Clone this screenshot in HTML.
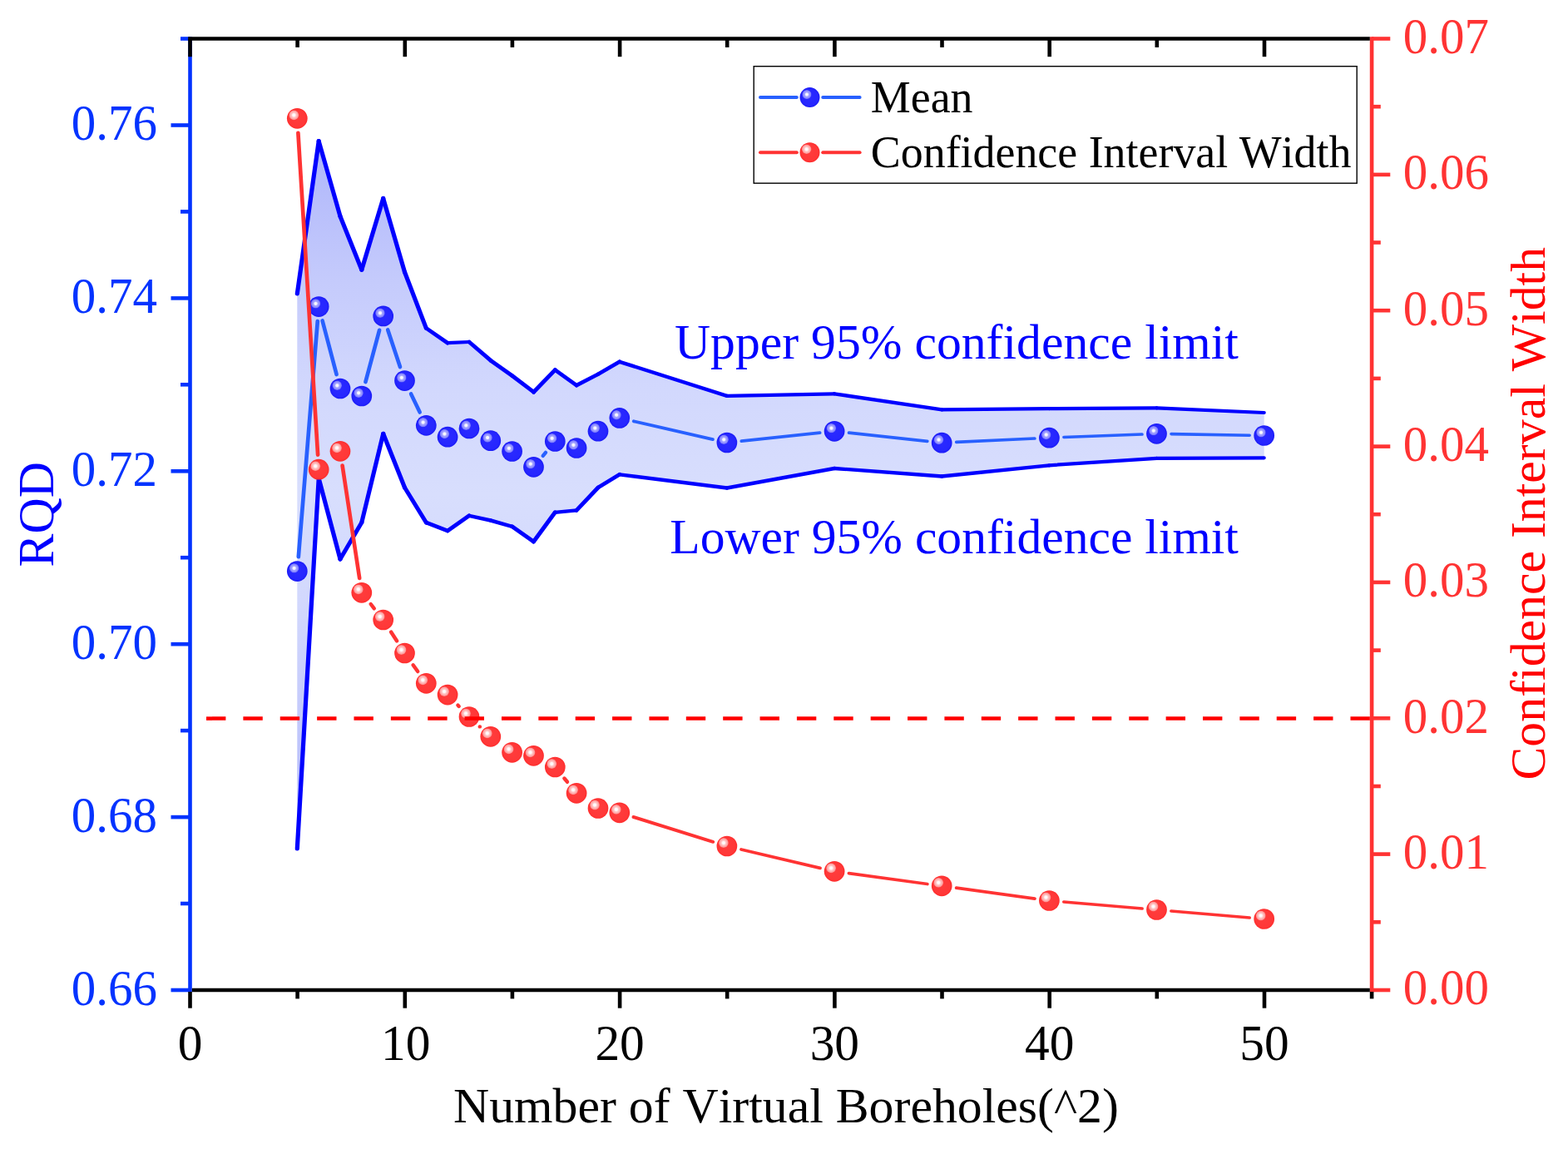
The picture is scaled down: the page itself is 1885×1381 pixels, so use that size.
<!DOCTYPE html>
<html lang="en"><head><meta charset="utf-8"><title>RQD vs Number of Virtual Boreholes</title>
<style>html,body{margin:0;padding:0;background:#fff}body{width:1885px;height:1381px}svg{display:block}text{font-family:'Liberation Serif', 'DejaVu Serif', serif;font-kerning:none;font-variant-ligatures:none}</style>
</head><body>
<svg width="1885" height="1381" viewBox="0 0 1885 1381" role="img" aria-label="RQD mean with 95% confidence limits and confidence interval width versus number of virtual boreholes">
<defs>
<linearGradient id="band" gradientUnits="userSpaceOnUse" x1="0" y1="170" x2="0" y2="1020"><stop offset="0" stop-color="#aeb5fb"/><stop offset="0.2" stop-color="#c5cbfc"/><stop offset="0.35" stop-color="#d2d8fd"/><stop offset="0.5" stop-color="#d8defd"/><stop offset="0.65" stop-color="#d2d8fd"/><stop offset="0.8" stop-color="#c5cbfc"/><stop offset="1" stop-color="#aeb5fb"/></linearGradient>
<radialGradient id="hl" cx="0.5" cy="0.5" r="0.5"><stop offset="0" stop-color="#fff" stop-opacity="1"/><stop offset="0.28" stop-color="#fff" stop-opacity="0.95"/><stop offset="0.45" stop-color="#fff" stop-opacity="0.74"/><stop offset="0.7" stop-color="#fff" stop-opacity="0.6"/><stop offset="0.9" stop-color="#fff" stop-opacity="0.46"/><stop offset="1" stop-color="#fff" stop-opacity="0.25"/></radialGradient>
<radialGradient id="hlb" cx="0.5" cy="0.5" r="0.5"><stop offset="0" stop-color="#fff" stop-opacity="1"/><stop offset="0.28" stop-color="#fff" stop-opacity="0.93"/><stop offset="0.45" stop-color="#fff" stop-opacity="0.6"/><stop offset="0.7" stop-color="#fff" stop-opacity="0.5"/><stop offset="0.9" stop-color="#fff" stop-opacity="0.38"/><stop offset="1" stop-color="#fff" stop-opacity="0.2"/></radialGradient>
<radialGradient id="bsh" cx="0.5" cy="0.5" r="0.5"><stop offset="0" stop-color="#2a2aff"/><stop offset="0.8" stop-color="#2626ff"/><stop offset="1" stop-color="#1a1af6"/></radialGradient>
<radialGradient id="rsh" cx="0.5" cy="0.5" r="0.5"><stop offset="0" stop-color="#ff3c3c"/><stop offset="0.8" stop-color="#ff3838"/><stop offset="1" stop-color="#ff2c2c"/></radialGradient>
<g id="bs"><circle r="12.35" fill="url(#bsh)"/><circle cx="-3.7" cy="-3.7" r="5.7" fill="url(#hlb)"/></g>
<g id="rs"><circle r="12.35" fill="url(#rsh)"/><circle cx="-4.0" cy="-4.0" r="5.9" fill="url(#hl)"/></g>
</defs>
<rect width="1885" height="1381" fill="#ffffff"/>
<polygon points="357.3,353.0 383.2,169.6 409.0,260.0 434.8,324.2 460.7,238.5 486.5,327.0 512.3,394.4 538.1,412.2 564.0,411.0 589.8,433.2 615.6,451.5 641.5,471.2 667.3,444.6 693.1,463.1 719.0,449.8 744.8,434.8 873.9,475.8 1003.1,473.3 1132.2,492.4 1261.4,491.2 1390.5,490.4 1519.7,496.0 1519.7,550.3 1390.5,550.8 1261.4,559.3 1132.2,572.5 1003.1,563.0 873.9,586.5 744.8,570.3 719.0,586.0 693.1,613.4 667.3,615.8 641.5,651.0 615.6,632.8 589.8,625.5 564.0,619.8 538.1,638.0 512.3,628.0 486.5,586.0 460.7,521.3 434.8,628.0 409.0,672.0 383.2,575.0 357.3,1020.0" fill="url(#band)"/>
<g stroke="#0000ff" stroke-linecap="round" fill="none">
<line x1="357.3" y1="353.0" x2="383.2" y2="169.6" stroke-width="5.19"/>
<line x1="383.2" y1="169.6" x2="409.0" y2="260.0" stroke-width="5.16"/>
<line x1="409.0" y1="260.0" x2="434.8" y2="324.2" stroke-width="5.13"/>
<line x1="434.8" y1="324.2" x2="460.7" y2="238.5" stroke-width="5.16"/>
<line x1="460.7" y1="238.5" x2="486.5" y2="327.0" stroke-width="5.16"/>
<line x1="486.5" y1="327.0" x2="512.3" y2="394.4" stroke-width="5.13"/>
<line x1="512.3" y1="394.4" x2="538.1" y2="412.2" stroke-width="4.77"/>
<line x1="538.1" y1="412.2" x2="564.0" y2="411.0" stroke-width="4.25"/>
<line x1="564.0" y1="411.0" x2="589.8" y2="433.2" stroke-width="4.85"/>
<line x1="589.8" y1="433.2" x2="615.6" y2="451.5" stroke-width="4.78"/>
<line x1="615.6" y1="451.5" x2="641.5" y2="471.2" stroke-width="4.81"/>
<line x1="641.5" y1="471.2" x2="667.3" y2="444.6" stroke-width="4.92"/>
<line x1="667.3" y1="444.6" x2="693.1" y2="463.1" stroke-width="4.78"/>
<line x1="693.1" y1="463.1" x2="719.0" y2="449.8" stroke-width="4.66"/>
<line x1="719.0" y1="449.8" x2="744.8" y2="434.8" stroke-width="4.70"/>
<line x1="744.8" y1="434.8" x2="873.9" y2="475.8" stroke-width="4.50"/>
<line x1="873.9" y1="475.8" x2="1003.1" y2="473.3" stroke-width="4.22"/>
<line x1="1003.1" y1="473.3" x2="1132.2" y2="492.4" stroke-width="4.35"/>
<line x1="1132.2" y1="492.4" x2="1261.4" y2="491.2" stroke-width="4.21"/>
<line x1="1261.4" y1="491.2" x2="1390.5" y2="490.4" stroke-width="4.21"/>
<line x1="1390.5" y1="490.4" x2="1519.7" y2="496.0" stroke-width="4.24"/>
</g>
<g stroke="#0000ff" stroke-linecap="round" fill="none">
<line x1="357.3" y1="1020.0" x2="383.2" y2="575.0" stroke-width="5.20"/>
<line x1="383.2" y1="575.0" x2="409.0" y2="672.0" stroke-width="5.17"/>
<line x1="409.0" y1="672.0" x2="434.8" y2="628.0" stroke-width="5.06"/>
<line x1="434.8" y1="628.0" x2="460.7" y2="521.3" stroke-width="5.17"/>
<line x1="460.7" y1="521.3" x2="486.5" y2="586.0" stroke-width="5.13"/>
<line x1="486.5" y1="586.0" x2="512.3" y2="628.0" stroke-width="5.05"/>
<line x1="512.3" y1="628.0" x2="538.1" y2="638.0" stroke-width="4.56"/>
<line x1="538.1" y1="638.0" x2="564.0" y2="619.8" stroke-width="4.78"/>
<line x1="564.0" y1="619.8" x2="589.8" y2="625.5" stroke-width="4.42"/>
<line x1="589.8" y1="625.5" x2="615.6" y2="632.8" stroke-width="4.47"/>
<line x1="615.6" y1="632.8" x2="641.5" y2="651.0" stroke-width="4.78"/>
<line x1="641.5" y1="651.0" x2="667.3" y2="615.8" stroke-width="5.01"/>
<line x1="667.3" y1="615.8" x2="693.1" y2="613.4" stroke-width="4.29"/>
<line x1="693.1" y1="613.4" x2="719.0" y2="586.0" stroke-width="4.93"/>
<line x1="719.0" y1="586.0" x2="744.8" y2="570.3" stroke-width="4.72"/>
<line x1="744.8" y1="570.3" x2="873.9" y2="586.5" stroke-width="4.32"/>
<line x1="873.9" y1="586.5" x2="1003.1" y2="563.0" stroke-width="4.38"/>
<line x1="1003.1" y1="563.0" x2="1132.2" y2="572.5" stroke-width="4.27"/>
<line x1="1132.2" y1="572.5" x2="1261.4" y2="559.3" stroke-width="4.30"/>
<line x1="1261.4" y1="559.3" x2="1390.5" y2="550.8" stroke-width="4.27"/>
<line x1="1390.5" y1="550.8" x2="1519.7" y2="550.3" stroke-width="4.20"/>
</g>
<line x1="358.8" y1="669.2" x2="381.8" y2="386.0" stroke="#2860ff" stroke-width="4.70" stroke-linecap="round"/>
<line x1="387.6" y1="385.5" x2="404.6" y2="450.1" stroke="#2860ff" stroke-width="4.66" stroke-linecap="round"/>
<line x1="439.4" y1="459.1" x2="456.1" y2="396.8" stroke="#2860ff" stroke-width="4.66" stroke-linecap="round"/>
<line x1="466.2" y1="396.5" x2="481.0" y2="441.0" stroke="#2860ff" stroke-width="4.64" stroke-linecap="round"/>
<line x1="494.1" y1="473.4" x2="504.7" y2="495.5" stroke="#2860ff" stroke-width="4.59" stroke-linecap="round"/>
<line x1="652.7" y1="547.9" x2="656.0" y2="543.9" stroke="#2860ff" stroke-width="4.44" stroke-linecap="round"/>
<line x1="761.8" y1="506.3" x2="856.9" y2="528.1" stroke="#2860ff" stroke-width="3.85" stroke-linecap="round"/>
<line x1="891.3" y1="530.2" x2="985.7" y2="520.1" stroke="#2860ff" stroke-width="3.72" stroke-linecap="round"/>
<line x1="1020.5" y1="520.2" x2="1114.8" y2="530.3" stroke="#2860ff" stroke-width="3.72" stroke-linecap="round"/>
<line x1="1149.7" y1="531.4" x2="1243.9" y2="527.0" stroke="#2860ff" stroke-width="3.65" stroke-linecap="round"/>
<line x1="1278.9" y1="525.5" x2="1373.0" y2="522.0" stroke="#2860ff" stroke-width="3.64" stroke-linecap="round"/>
<line x1="1408.0" y1="521.6" x2="1502.2" y2="523.2" stroke="#2860ff" stroke-width="3.62" stroke-linecap="round"/>
<use href="#bs" x="357.3" y="686.6"/>
<use href="#bs" x="383.2" y="368.6"/>
<use href="#bs" x="409.0" y="467.0"/>
<use href="#bs" x="434.8" y="476.0"/>
<use href="#bs" x="460.7" y="379.9"/>
<use href="#bs" x="486.5" y="457.6"/>
<use href="#bs" x="512.3" y="511.3"/>
<use href="#bs" x="538.1" y="525.2"/>
<use href="#bs" x="564.0" y="515.0"/>
<use href="#bs" x="589.8" y="529.7"/>
<use href="#bs" x="615.6" y="542.5"/>
<use href="#bs" x="641.5" y="561.3"/>
<use href="#bs" x="667.3" y="530.5"/>
<use href="#bs" x="693.1" y="538.5"/>
<use href="#bs" x="719.0" y="518.2"/>
<use href="#bs" x="744.8" y="502.4"/>
<use href="#bs" x="873.9" y="532.0"/>
<use href="#bs" x="1003.1" y="518.3"/>
<use href="#bs" x="1132.2" y="532.2"/>
<use href="#bs" x="1261.4" y="526.2"/>
<use href="#bs" x="1390.5" y="521.3"/>
<use href="#bs" x="1519.7" y="523.5"/>
<line x1="358.4" y1="159.8" x2="382.1" y2="546.7" stroke="#ff3333" stroke-width="4.70" stroke-linecap="round"/>
<line x1="411.6" y1="559.6" x2="432.2" y2="695.0" stroke="#ff3333" stroke-width="4.69" stroke-linecap="round"/>
<line x1="445.7" y1="726.0" x2="449.8" y2="731.3" stroke="#ff3333" stroke-width="4.46" stroke-linecap="round"/>
<line x1="470.2" y1="759.7" x2="477.0" y2="770.3" stroke="#ff3333" stroke-width="4.52" stroke-linecap="round"/>
<line x1="496.6" y1="799.3" x2="502.2" y2="807.0" stroke="#ff3333" stroke-width="4.50" stroke-linecap="round"/>
<line x1="550.4" y1="847.6" x2="551.7" y2="849.0" stroke="#ff3333" stroke-width="4.39" stroke-linecap="round"/>
<line x1="576.8" y1="873.4" x2="576.9" y2="873.4" stroke="#ff3333" stroke-width="4.35" stroke-linecap="round"/>
<line x1="678.4" y1="935.5" x2="682.0" y2="939.8" stroke="#ff3333" stroke-width="4.45" stroke-linecap="round"/>
<line x1="761.5" y1="982.0" x2="857.2" y2="1011.8" stroke="#ff3333" stroke-width="3.93" stroke-linecap="round"/>
<line x1="891.0" y1="1021.0" x2="986.0" y2="1043.3" stroke="#ff3333" stroke-width="3.85" stroke-linecap="round"/>
<line x1="1020.4" y1="1049.6" x2="1114.9" y2="1062.5" stroke="#ff3333" stroke-width="3.75" stroke-linecap="round"/>
<line x1="1149.6" y1="1067.2" x2="1244.0" y2="1080.1" stroke="#ff3333" stroke-width="3.75" stroke-linecap="round"/>
<line x1="1278.8" y1="1084.0" x2="1373.1" y2="1092.0" stroke="#ff3333" stroke-width="3.69" stroke-linecap="round"/>
<line x1="1407.9" y1="1095.0" x2="1502.2" y2="1103.0" stroke="#ff3333" stroke-width="3.69" stroke-linecap="round"/>
<use href="#rs" x="357.3" y="142.3"/>
<use href="#rs" x="383.2" y="564.2"/>
<use href="#rs" x="409.0" y="542.3"/>
<use href="#rs" x="434.8" y="712.3"/>
<use href="#rs" x="460.7" y="745.0"/>
<use href="#rs" x="486.5" y="785.0"/>
<use href="#rs" x="512.3" y="821.3"/>
<use href="#rs" x="538.1" y="835.1"/>
<use href="#rs" x="564.0" y="861.5"/>
<use href="#rs" x="589.8" y="885.3"/>
<use href="#rs" x="615.6" y="904.3"/>
<use href="#rs" x="641.5" y="908.3"/>
<use href="#rs" x="667.3" y="922.0"/>
<use href="#rs" x="693.1" y="953.3"/>
<use href="#rs" x="719.0" y="971.5"/>
<use href="#rs" x="744.8" y="976.8"/>
<use href="#rs" x="873.9" y="1017.0"/>
<use href="#rs" x="1003.1" y="1047.3"/>
<use href="#rs" x="1132.2" y="1064.8"/>
<use href="#rs" x="1261.4" y="1082.5"/>
<use href="#rs" x="1390.5" y="1093.5"/>
<use href="#rs" x="1519.7" y="1104.5"/>
<line x1="248" y1="863.6" x2="1649.1" y2="863.6" stroke="#ff0000" stroke-width="4.5" stroke-dasharray="23.4 20.97"/>
<g stroke="#0433ff" stroke-width="4.6" fill="none">
<line x1="228.5" y1="44.2" x2="228.5" y2="1192.3"/>
<line x1="205.5" y1="1190.0" x2="228.5" y2="1190.0"/>
<line x1="217.0" y1="1086.0" x2="228.5" y2="1086.0"/>
<line x1="205.5" y1="982.1" x2="228.5" y2="982.1"/>
<line x1="217.0" y1="878.1" x2="228.5" y2="878.1"/>
<line x1="205.5" y1="774.2" x2="228.5" y2="774.2"/>
<line x1="217.0" y1="670.2" x2="228.5" y2="670.2"/>
<line x1="205.5" y1="566.3" x2="228.5" y2="566.3"/>
<line x1="217.0" y1="462.3" x2="228.5" y2="462.3"/>
<line x1="205.5" y1="358.4" x2="228.5" y2="358.4"/>
<line x1="217.0" y1="254.4" x2="228.5" y2="254.4"/>
<line x1="205.5" y1="150.5" x2="228.5" y2="150.5"/>
<line x1="217.0" y1="46.5" x2="228.5" y2="46.5"/>
</g>
<g stroke="#ff3333" stroke-width="4.6" fill="none">
<line x1="1649.1" y1="44.2" x2="1649.1" y2="1192.3"/>
<line x1="1649.1" y1="1190.0" x2="1671.3" y2="1190.0"/>
<line x1="1649.1" y1="1108.3" x2="1659.8" y2="1108.3"/>
<line x1="1649.1" y1="1026.6" x2="1671.3" y2="1026.6"/>
<line x1="1649.1" y1="945.0" x2="1659.8" y2="945.0"/>
<line x1="1649.1" y1="863.3" x2="1671.3" y2="863.3"/>
<line x1="1649.1" y1="781.6" x2="1659.8" y2="781.6"/>
<line x1="1649.1" y1="699.9" x2="1671.3" y2="699.9"/>
<line x1="1649.1" y1="618.2" x2="1659.8" y2="618.2"/>
<line x1="1649.1" y1="536.6" x2="1671.3" y2="536.6"/>
<line x1="1649.1" y1="454.9" x2="1659.8" y2="454.9"/>
<line x1="1649.1" y1="373.2" x2="1671.3" y2="373.2"/>
<line x1="1649.1" y1="291.5" x2="1659.8" y2="291.5"/>
<line x1="1649.1" y1="209.9" x2="1671.3" y2="209.9"/>
<line x1="1649.1" y1="128.2" x2="1659.8" y2="128.2"/>
<line x1="1649.1" y1="46.5" x2="1671.3" y2="46.5"/>
</g>
<g stroke="#000000" stroke-width="4.6" fill="none">
<line x1="226.2" y1="46.5" x2="1646.8" y2="46.5"/>
<line x1="230.8" y1="1190.0" x2="1646.8" y2="1190.0"/>
<line x1="228.5" y1="46.5" x2="228.5" y2="68.2"/>
<line x1="228.5" y1="1192.0" x2="228.5" y2="1211.7"/>
<line x1="357.6" y1="46.5" x2="357.6" y2="56.9"/>
<line x1="357.6" y1="1192.0" x2="357.6" y2="1200.4"/>
<line x1="486.8" y1="46.5" x2="486.8" y2="68.2"/>
<line x1="486.8" y1="1192.0" x2="486.8" y2="1211.7"/>
<line x1="615.9" y1="46.5" x2="615.9" y2="56.9"/>
<line x1="615.9" y1="1192.0" x2="615.9" y2="1200.4"/>
<line x1="745.1" y1="46.5" x2="745.1" y2="68.2"/>
<line x1="745.1" y1="1192.0" x2="745.1" y2="1211.7"/>
<line x1="874.2" y1="46.5" x2="874.2" y2="56.9"/>
<line x1="874.2" y1="1192.0" x2="874.2" y2="1200.4"/>
<line x1="1003.4" y1="46.5" x2="1003.4" y2="68.2"/>
<line x1="1003.4" y1="1192.0" x2="1003.4" y2="1211.7"/>
<line x1="1132.5" y1="46.5" x2="1132.5" y2="56.9"/>
<line x1="1132.5" y1="1192.0" x2="1132.5" y2="1200.4"/>
<line x1="1261.7" y1="46.5" x2="1261.7" y2="68.2"/>
<line x1="1261.7" y1="1192.0" x2="1261.7" y2="1211.7"/>
<line x1="1390.8" y1="46.5" x2="1390.8" y2="56.9"/>
<line x1="1390.8" y1="1192.0" x2="1390.8" y2="1200.4"/>
<line x1="1520.0" y1="46.5" x2="1520.0" y2="68.2"/>
<line x1="1520.0" y1="1192.0" x2="1520.0" y2="1211.7"/>
<line x1="1649.1" y1="1192.0" x2="1649.1" y2="1200.4"/>
</g>
<text transform="translate(189.00 1207.90) scale(1 1.050)" font-size="59.00" fill="#0433ff" text-anchor="end">0.66</text>
<text transform="translate(189.00 999.99) scale(1 1.050)" font-size="59.00" fill="#0433ff" text-anchor="end">0.68</text>
<text transform="translate(189.00 792.08) scale(1 1.050)" font-size="59.00" fill="#0433ff" text-anchor="end">0.70</text>
<text transform="translate(189.00 584.17) scale(1 1.050)" font-size="59.00" fill="#0433ff" text-anchor="end">0.72</text>
<text transform="translate(189.00 376.26) scale(1 1.050)" font-size="59.00" fill="#0433ff" text-anchor="end">0.74</text>
<text transform="translate(189.00 168.35) scale(1 1.050)" font-size="59.00" fill="#0433ff" text-anchor="end">0.76</text>
<text transform="translate(1686.70 1207.30) scale(1 1.050)" font-size="59.00" fill="#ff3333" text-anchor="start">0.00</text>
<text transform="translate(1686.70 1043.94) scale(1 1.050)" font-size="59.00" fill="#ff3333" text-anchor="start">0.01</text>
<text transform="translate(1686.70 880.59) scale(1 1.050)" font-size="59.00" fill="#ff3333" text-anchor="start">0.02</text>
<text transform="translate(1686.70 717.23) scale(1 1.050)" font-size="59.00" fill="#ff3333" text-anchor="start">0.03</text>
<text transform="translate(1686.70 553.87) scale(1 1.050)" font-size="59.00" fill="#ff3333" text-anchor="start">0.04</text>
<text transform="translate(1686.70 390.51) scale(1 1.050)" font-size="59.00" fill="#ff3333" text-anchor="start">0.05</text>
<text transform="translate(1686.70 227.16) scale(1 1.050)" font-size="59.00" fill="#ff3333" text-anchor="start">0.06</text>
<text transform="translate(1686.70 63.80) scale(1 1.050)" font-size="59.00" fill="#ff3333" text-anchor="start">0.07</text>
<text transform="translate(228.50 1274.30) scale(1 1.030)" font-size="59.40" fill="#000000" text-anchor="middle">0</text>
<text transform="translate(487.79 1274.30) scale(1 1.030)" font-size="59.40" fill="#000000" text-anchor="middle">10</text>
<text transform="translate(745.08 1274.30) scale(1 1.030)" font-size="59.40" fill="#000000" text-anchor="middle">20</text>
<text transform="translate(1003.37 1274.30) scale(1 1.030)" font-size="59.40" fill="#000000" text-anchor="middle">30</text>
<text transform="translate(1261.66 1274.30) scale(1 1.030)" font-size="59.40" fill="#000000" text-anchor="middle">40</text>
<text transform="translate(1519.95 1274.30) scale(1 1.030)" font-size="59.40" fill="#000000" text-anchor="middle">50</text>
<text transform="translate(944.90 1349.20)" font-size="59.77" fill="#000000" text-anchor="middle">Number of Virtual Boreholes(^2)</text>
<text transform="translate(64.20 618.20) rotate(-90) scale(1 1.020)" font-size="59.90" fill="#0000ff" text-anchor="middle">RQD</text>
<text transform="translate(1856.90 617.20) rotate(-90)" font-size="59.78" fill="#ff0000" text-anchor="middle">Confidence Interval Width</text>
<text transform="translate(1488.90 431.30)" font-size="59.70" fill="#0000ff" text-anchor="end">Upper 95% confidence limit</text>
<text transform="translate(1488.90 664.80)" font-size="59.62" fill="#0000ff" text-anchor="end">Lower 95% confidence limit</text>
<rect x="906.2" y="79.7" width="725" height="140.5" fill="#ffffff" stroke="#000000" stroke-width="1.4"/>
<line x1="914" y1="117.1" x2="957.8" y2="117.1" stroke="#2860ff" stroke-width="4" stroke-linecap="round"/>
<line x1="989.2" y1="117.1" x2="1033.6" y2="117.1" stroke="#2860ff" stroke-width="4" stroke-linecap="round"/>
<use href="#bs" transform="translate(973.5 117.1) scale(0.97)"/>
<line x1="914" y1="183.2" x2="957.8" y2="183.2" stroke="#ff3333" stroke-width="4" stroke-linecap="round"/>
<line x1="989.2" y1="183.2" x2="1033.6" y2="183.2" stroke="#ff3333" stroke-width="4" stroke-linecap="round"/>
<use href="#rs" transform="translate(973.5 183.2) scale(0.97)"/>
<text transform="translate(1046.80 134.50)" font-size="53.90" fill="#000000" text-anchor="start">Mean</text>
<text transform="translate(1046.80 201.00)" font-size="53.90" fill="#000000" text-anchor="start">Confidence Interval Width</text>
</svg>
</body></html>
